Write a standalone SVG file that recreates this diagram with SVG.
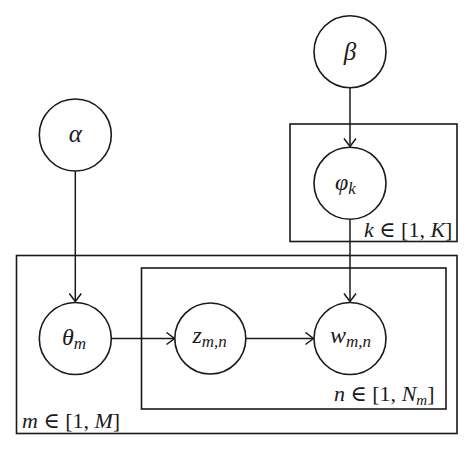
<svg xmlns="http://www.w3.org/2000/svg" width="474" height="451" viewBox="0 0 474 451">
<style>
.n{fill:#fff;stroke:#1a1a1a;stroke-width:1.6}
.p{fill:none;stroke:#1a1a1a;stroke-width:1.6}
.e{stroke:#1a1a1a;stroke-width:1.5;fill:none}
text{font-family:"Liberation Serif","DejaVu Serif",serif;fill:#1a1a1a}
.l{font-size:25px;text-anchor:middle}
.pl{font-size:22px}
.nl{font-size:24px}
.i{font-style:italic}
.s{font-size:15px;font-style:italic}
.s2{font-size:17px;font-style:italic}
</style>
<defs>
<marker id="a" viewBox="0 0 10 14" refX="9" refY="7" markerWidth="10" markerHeight="14" markerUnits="userSpaceOnUse" orient="auto">
<path d="M1,1 L9,7 L1,13" fill="none" stroke="#1a1a1a" stroke-width="1.5"/>
</marker>
</defs>
<g id="plates">
<rect id="plateK" class="p" x="290" y="124" width="167" height="117.5"/>
<rect id="plateM" class="p" x="16.5" y="255.5" width="440.5" height="178"/>
<rect id="plateN" class="p" x="141.5" y="268" width="304.5" height="141"/>
<text class="pl" x="364" y="237"><tspan class="i">k</tspan> ∈ [1, <tspan class="i">K</tspan>]</text>
<text class="pl" x="334" y="401"><tspan class="i">n</tspan> ∈ [1, <tspan class="i">N</tspan><tspan class="s" dy="4">m</tspan><tspan dy="-4">]</tspan></text>
<text class="pl" x="22" y="428"><tspan class="i">m</tspan> ∈ [1, <tspan class="i">M</tspan>]</text>
</g>
<g id="edges">
<line class="e" x1="75.3" y1="171" x2="75.3" y2="301.5" marker-end="url(#a)"/>
<line class="e" x1="350" y1="88" x2="350" y2="146.5" marker-end="url(#a)"/>
<line class="e" x1="350" y1="219.5" x2="350" y2="301.5" marker-end="url(#a)"/>
<line class="e" x1="111.5" y1="338.5" x2="174.5" y2="338.5" marker-end="url(#a)"/>
<line class="e" x1="246" y1="338.5" x2="313.5" y2="338.5" marker-end="url(#a)"/>
</g>
<g id="alpha">
<circle class="n" cx="75.3" cy="135" r="36"/>
<text class="l i" x="75.3" y="142">α</text>
</g>
<g id="beta">
<circle class="n" cx="350" cy="51.7" r="36"/>
<text class="l i" x="350" y="60">β</text>
</g>
<g id="phi">
<circle class="n" cx="350" cy="183.3" r="36"/>
<text class="nl i" x="335" y="190">φ<tspan class="s2" dy="4">k</tspan></text>
</g>
<g id="theta">
<circle class="n" cx="75.3" cy="338.5" r="36"/>
<text class="nl i" x="62" y="345">θ<tspan class="s2" dy="4">m</tspan></text>
</g>
<g id="z">
<circle class="n" cx="210.3" cy="338.5" r="35.5"/>
<text class="nl i" x="192.5" y="343">z<tspan class="s2" dy="4">m,n</tspan></text>
</g>
<g id="w">
<circle class="n" cx="350" cy="338.5" r="36"/>
<text class="nl i" x="330" y="343">w<tspan class="s2" dy="4">m,n</tspan></text>
</g>
</svg>
